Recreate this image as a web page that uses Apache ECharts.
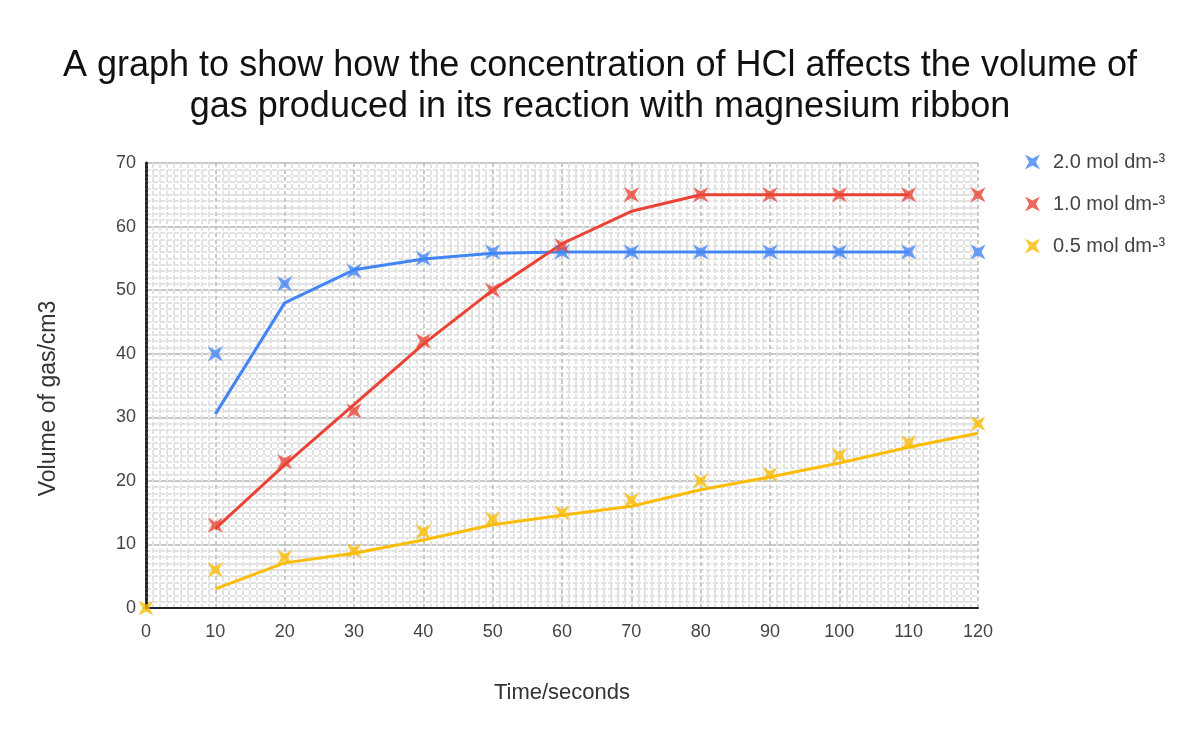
<!DOCTYPE html>
<html>
<head>
<meta charset="utf-8">
<script src="https://cdn.jsdelivr.net/npm/echarts@6/dist/echarts.min.js"></script>
<style>
  html, body { margin: 0; padding: 0; background: #fff; }
  #chart { width: 1200px; height: 742px; }
</style>
</head>
<body>
<div id="chart"></div>
<script>
// time in seconds
let times = [0, 10, 20, 30, 40, 50, 60, 70, 80, 90, 100, 110, 120];
let seriesNames = ['2.0 mol dm-³', '1.0 mol dm-³', '0.5 mol dm-³'];
let colors = ['#4285F4', '#EA4335', '#FBBC04'];

// measured points (null = no reading)
let pts20 = [null, 40, 51, 53, 55, 56, 56, 56, 56, 56, 56, 56, 56];
let pts10 = [null, 13, 23, 31, 42, 50, 57, 65, 65, 65, 65, 65, 65];
let pts05 = [0, 6, 8, 9, 12, 14, 15, 17, 20, 21, 24, 26, 29];

// drawn lines of best fit
let fit20 = [null, 30.5, 48, 53.2, 54.9, 55.8, 56, 56, 56, 56, 56, 56, null];
let fit10 = [null, 12.5, 22.5, 32, 41.5, 50, 57.3, 62.4, 65, 65, 65, 65, null];
let fit05 = [null, 3, 7.1, 8.6, 10.7, 13.1, 14.6, 16, 18.6, 20.6, 22.8, 25.3, 27.5];

// X marker
const crossPath = 'path://M0,0 L5,2.7 L10,0 L7.3,5 L10,10 L5,7.3 L0,10 L2.7,5 Z';

function pairs(arr) {
	let out = [];
	arr.forEach(function (v, i) {
		if (v !== null) out.push([times[i], v]);
	});
	return out;
}

let points = [pts20, pts10, pts05];
let fits = [fit20, fit10, fit05];

let series = [];
points.forEach(function (p, i) {
	series.push({
		name: seriesNames[i],
		type: 'scatter',
		data: pairs(p),
		symbol: crossPath,
		symbolSize: 15,
		clip: true,
		itemStyle: { color: colors[i] },
		z: 3
	});
});
fits.forEach(function (f, i) {
	series.push({
		name: 'fit' + i,
		type: 'line',
		data: pairs(f),
		showSymbol: false,
		lineStyle: { color: colors[i], width: 3 },
		itemStyle: { color: colors[i] },
		z: 2
	});
});

var myChart = echarts.init(document.getElementById('chart'));
var option = {
	backgroundColor: '#fff',
	animation: false,
	textStyle: { fontFamily: 'Liberation Sans, Arial, sans-serif' },
	title: {
		text: 'A graph to show how the concentration of HCl affects the volume of\ngas produced in its reaction with magnesium ribbon',
		left: 'center',
		top: 41,
		textStyle: { fontSize: 36, fontWeight: 'normal', color: '#111', lineHeight: 41 }
	},
	legend: {
		orient: 'vertical',
		left: 1020,
		top: 147,
		itemGap: 22,
		itemWidth: 15,
		itemHeight: 15,
		data: seriesNames,
		textStyle: { fontSize: 20, color: '#444', padding: [0, 0, 0, 8] }
	},
	grid: { left: 146, right: 222, top: 163, bottom: 134 },
	xAxis: {
		type: 'value',
		min: 0,
		max: 120,
		interval: 10,
		name: 'Time/seconds',
		nameLocation: 'middle',
		nameGap: 74,
		nameTextStyle: { fontSize: 22, color: '#333' },
		axisLine: { show: true, lineStyle: { color: '#222', width: 2 } },
		axisTick: { show: false },
		axisLabel: { fontSize: 18, color: '#444', margin: 15 },
		splitLine: { show: true, lineStyle: { color: '#c8c8c8', width: 2, type: [4, 3] } },
		minorTick: { show: false, splitNumber: 10 },
		minorSplitLine: { show: true, lineStyle: { color: '#e2e2e2', width: 2, type: [5, 2] } }
	},
	yAxis: {
		type: 'value',
		min: 0,
		max: 70,
		interval: 10,
		name: 'Volume of gas/cm3',
		nameLocation: 'middle',
		nameGap: 86,
		nameTextStyle: { fontSize: 23, color: '#333', padding: [0, 26, 0, 0] },
		axisLine: { show: true, lineStyle: { color: '#222', width: 3, type: [2, 2] } },
		axisTick: { show: false },
		axisLabel: { fontSize: 18, color: '#444', margin: 10 },
		splitLine: { show: true, lineStyle: { color: '#c8c8c8', width: 2 } },
		minorTick: { show: false, splitNumber: 10 },
		minorSplitLine: { show: true, lineStyle: { color: '#e2e2e2', width: 2, type: [5, 2] } }
	},
	series: series
};
myChart.setOption(option);
</script>
</body>
</html>
